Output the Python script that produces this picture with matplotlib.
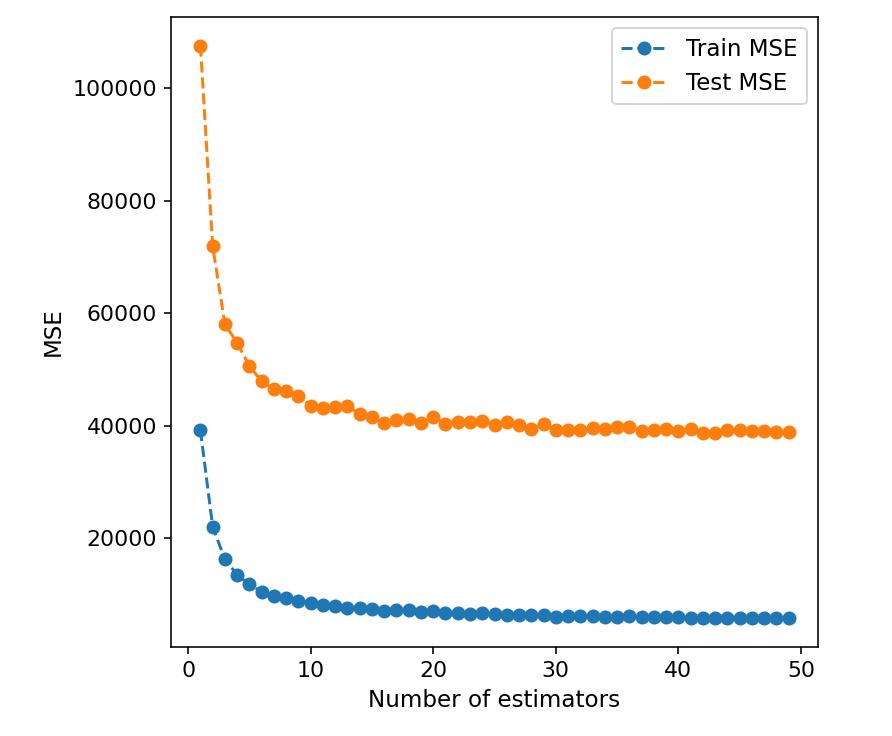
import numpy as np
import matplotlib
matplotlib.use("Agg")
import matplotlib.pyplot as plt

# number of estimators
n_estimators = list(range(1, 50))

# values
train_mse = [39190, 22000, 16200, 13470, 11750, 10450, 9680, 9260, 8790, 8490,
             8080, 7840, 7540, 7540, 7360, 7070, 7180, 7240, 6880, 7010,
             6710, 6710, 6470, 6600, 6470, 6300, 6300, 6240, 6300, 6000,
             6120, 6120, 6120, 6000, 6000, 6120, 5880, 5880, 5880, 6000,
             5820, 5820, 5710, 5820, 5710, 5710, 5710, 5710, 5760]

test_mse = [107600, 71900, 58040, 54720, 50570, 47900, 46430, 46130, 45290, 43460,
            43100, 43280, 43460, 42040, 41500, 40490, 41000, 41100, 40380, 41620,
            40260, 40560, 40670, 40900, 40130, 40620, 40130, 39440, 40330, 39200,
            39200, 39260, 39500, 39320, 39790, 39730, 39020, 39260, 39320, 39020,
            39320, 38670, 38610, 39140, 39200, 39020, 39020, 38900, 38900]

plt.rcParams['font.size'] = 11.5
plt.rcParams['xtick.labelsize'] = 11
plt.rcParams['ytick.labelsize'] = 11

fig = plt.figure(figsize=(892 / 144, 736 / 144), dpi=144)
ax = fig.add_axes([171 / 892, 89 / 736, 647 / 892, 630 / 736])

ax.plot(n_estimators, train_mse, 'o--', label='Train MSE')
ax.plot(n_estimators, test_mse, 'o--', label='Test MSE')

ax.set_xlabel('Number of estimators')
ax.set_ylabel('MSE')
ax.legend(loc='upper right')

fig.savefig('out.png', dpi=144)
